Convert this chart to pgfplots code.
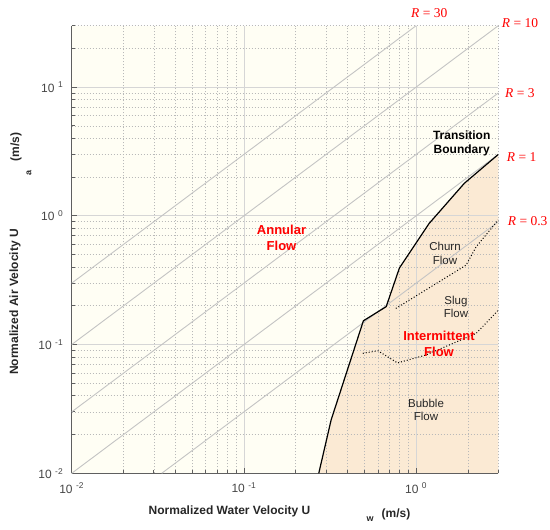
\documentclass[border=0pt]{standalone}
\usepackage{fontspec}
\setmainfont{Liberation Sans}
\newfontfamily\timesfont{Liberation Serif}
\usepackage{pgfplots}
\pgfplotsset{compat=1.18}
\definecolor{bgcream}{RGB}{255,254,244}
\definecolor{peach}{RGB}{251,234,212}
\definecolor{majgrid}{RGB}{214,214,214}
\definecolor{mingrid}{RGB}{185,185,185}
\definecolor{rline}{RGB}{196,196,196}
\definecolor{axcol}{RGB}{95,95,95}
\definecolor{tickcol}{RGB}{70,70,70}
\newcommand{\tl}[1]{10\hspace{3.5bp}\textsuperscript{#1}}
\begin{document}
\begin{tikzpicture}
\begin{axis}[
  set layers,
  xmode=log, ymode=log,
  scale only axis, width=426.6bp, height=447.6bp,
  xmin=0.01, xmax=3, ymin=0.01, ymax=30,
  axis x line*=bottom, axis y line*=left,
  axis line style={axcol, line width=1.3bp, -},
  axis background/.style={fill=bgcream},
  grid=both,
  major grid style={majgrid, line width=0.8bp},
  minor grid style={mingrid, line width=0.7bp, dash pattern=on 0.8bp off 2.2bp},
  xtick={0.01,0.1,1}, ytick={0.01,0.1,1,10},
  minor xtick={0.02,0.03,0.04,0.05,0.06,0.07,0.08,0.09,0.2,0.3,0.4,0.5,0.6,0.7,0.8,0.9,2,3},
  minor ytick={0.02,0.03,0.04,0.05,0.06,0.07,0.08,0.09,0.2,0.3,0.4,0.5,0.6,0.7,0.8,0.9,2,3,4,5,6,7,8,9,20,30},
  xticklabels={{\tl{-2}},{\tl{-1}},{\tl{0}}},
  yticklabels={{\tl{-2}},{\tl{-1}},{\tl{0}},{\tl{1}}},
  tick align=inside,
  major tick length=5bp, minor tick length=3bp,
  tick style={axcol, line width=0.8bp},
  ticklabel style={font=\fontsize{12bp}{14bp}\selectfont, text=tickcol},
  xticklabel style={yshift=-6bp},
  yticklabel style={xshift=-5bp},
]
% flow regime region (right of transition boundary)
\addplot[fill=peach, draw=none, on layer=axis background] coordinates {
 (0.272,0.01) (0.321,0.026) (0.494,0.153) (0.67,0.197) (0.80,0.394)
 (1.19,0.873) (1.905,1.79) (3,3) (3,0.01)} -- cycle;
% constant ratio lines R = Ua/Uw
\addplot[rline, line width=0.9bp] coordinates {(0.01,0.3) (1,30)};
\addplot[rline, line width=0.9bp] coordinates {(0.01,0.1) (3,30)};
\addplot[rline, line width=0.9bp] coordinates {(0.01,0.03) (3,9)};
\addplot[rline, line width=0.9bp] coordinates {(0.01,0.01) (3,3)};
\addplot[rline, line width=0.9bp] coordinates {(0.03333,0.01) (3,0.9)};
% transition boundary
\addplot[black, line width=1.2bp] coordinates {
 (0.272,0.01) (0.321,0.026) (0.494,0.153) (0.67,0.197) (0.80,0.394)
 (1.19,0.873) (1.905,1.79) (3,3)};
% churn / slug boundary
\addplot[black, line width=1bp, dash pattern=on 1bp off 2bp] coordinates {
 (0.762,0.191) (1.95,0.414) (2.23,0.574) (3,0.93)};
% slug / bubble boundary
\addplot[black, line width=1bp, dash pattern=on 1bp off 2bp] coordinates {
 (0.49,0.0855) (0.60,0.0895) (0.78,0.072) (1.14,0.083) (2.23,0.122) (3,0.185)};
\end{axis}
\begin{scope}[x=1bp,y=1bp]
% axis labels
\node[rotate=90, font=\fontsize{12bp}{14bp}\selectfont\bfseries, text=black!85] at (-56.7,171.3) {Normalized Air Velocity U};
\node[rotate=90, font=\fontsize{9bp}{10bp}\selectfont\bfseries, text=black!85] at (-42.7,300.3) {a};
\node[rotate=90, font=\fontsize{12bp}{14bp}\selectfont\bfseries, text=black!85] at (-55.7,326.3) {(m/s)};
\node[font=\fontsize{12bp}{14bp}\selectfont\bfseries, text=black!85] at (157.8,-38.4) {Normalized Water Velocity U};
\node[font=\fontsize{9bp}{10bp}\selectfont\bfseries, text=black!85] at (298.3,-45.7) {w};
\node[font=\fontsize{12bp}{14bp}\selectfont\bfseries, text=black!85] at (324.3,-40.7) {(m/s)};
% region labels
\node[align=center, text=red, font=\fontsize{13bp}{16.5bp}\selectfont\bfseries] at (209.8,235.3) {Annular\\Flow};
\node[align=center, text=red, font=\fontsize{13bp}{16.5bp}\selectfont\bfseries] at (367.3,129.3) {Intermittent\\Flow};
\node[align=center, text=black, font=\fontsize{12bp}{14.5bp}\selectfont\bfseries] at (390,329.8) {Transition\\Boundary};
\node[align=center, text=black!85, font=\fontsize{11.5bp}{14bp}\selectfont] at (373.3,220.3) {Churn\\Flow};
\node[align=center, text=black!85, font=\fontsize{11.5bp}{13.5bp}\selectfont] at (384.3,166.6) {Slug\\Flow};
\node[align=center, text=black!85, font=\fontsize{11.5bp}{13.5bp}\selectfont] at (354.3,63.3) {Bubble\\Flow};
% R labels
\begin{scope}[every node/.style={anchor=west, inner sep=0pt, text=red, font=\fontsize{13.5bp}{15bp}\timesfont}]
\node at (339.3,460) {\textit{R} = 30};
\node at (430,450.6) {\textit{R} = 10};
\node at (433.3,380.6) {\textit{R} = 3};
\node at (435,316) {\textit{R} = 1};
\node at (436,252.6) {\textit{R} = 0.3};
\end{scope}
\pgfresetboundingbox
\useasboundingbox (-71.7,-56.7) rectangle (478.3,473.3);
\end{scope}
\end{tikzpicture}
\end{document}
